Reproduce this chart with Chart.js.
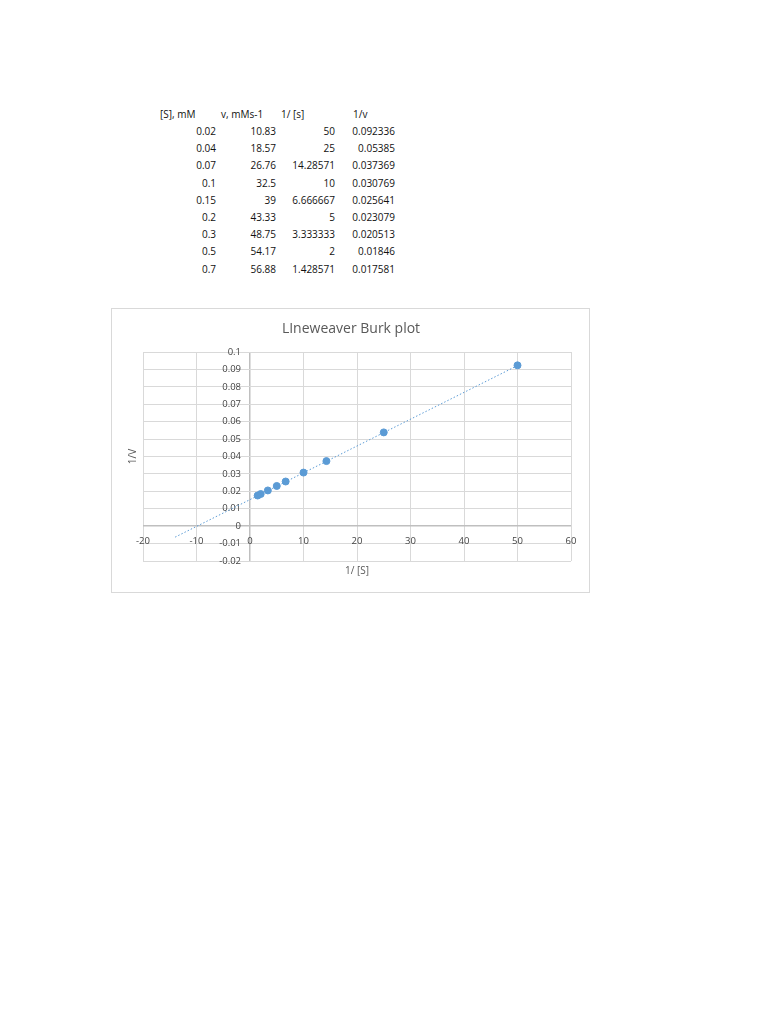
<!DOCTYPE html>
<html>
<head>
<meta charset="utf-8">
<script src="https://cdn.jsdelivr.net/npm/chart.js@4"></script>
<style>
  body { margin: 0; background: #fff; width: 768px; height: 1024px; position: relative; font-family: "Open Sans", sans-serif; }
  .cell { position: absolute; font-size: 10px; color: #111; white-space: nowrap; line-height: 12px; }
  .num { text-align: right; }
  #chartBox { position: absolute; left: 111px; top: 308px; width: 477px; height: 283px; border: 1px solid #d9d9d9; }
</style>
</head>
<body>
<div id="table"></div>
<div id="chartBox"><canvas id="lbChart"></canvas></div>
<script>
// valores da planilha
const sConc = ['0.02', '0.04', '0.07', '0.1', '0.15', '0.2', '0.3', '0.5', '0.7'];
const velocity = ['10.83', '18.57', '26.76', '32.5', '39', '43.33', '48.75', '54.17', '56.88'];
const invS = [50, 25, 14.28571, 10, 6.666667, 5, 3.333333, 2, 1.428571];
const invV = [0.092336, 0.05385, 0.037369, 0.030769, 0.025641, 0.023079, 0.020513, 0.01846, 0.017581];
const headers = ['[S], mM', 'v, mMs-1', '1/ [s]', '1/v'];

// linha de tendência (pontas)
const trendX = [-14, 50];
const trendY = [-0.0063, 0.0922];

// marcas dos eixos
const xTicks = [-20, -10, 0, 10, 20, 30, 40, 50, 60];
const xTickLabels = ['-20', '-10', '0', '10', '20', '30', '40', '50', '60'];
const yTicks = [0.1, 0.09, 0.08, 0.07, 0.06, 0.05, 0.04, 0.03, 0.02, 0.01, 0, -0.01, -0.02];
const yTickLabels = ['0.1', '0.09', '0.08', '0.07', '0.06', '0.05', '0.04', '0.03', '0.02', '0.01', '0', '-0.01', '-0.02'];

// monta a tabela de cima
const tableDiv = document.getElementById('table');
const headerLeft = [160, 221, 281, 353];
headers.forEach((h, i) => {
  const d = document.createElement('div');
  d.className = 'cell';
  d.style.left = headerLeft[i] + 'px';
  d.style.top = '108px';
  d.textContent = h;
  tableDiv.appendChild(d);
});
const colRight = [216, 276, 335, 395];
sConc.forEach((s, r) => {
  const row = [s, velocity[r], String(invS[r]), String(invV[r])];
  row.forEach((txt, c) => {
    const d = document.createElement('div');
    d.className = 'cell num';
    d.style.left = (colRight[c] - 60) + 'px';
    d.style.width = '60px';
    d.style.top = (125 + r * 17.2) + 'px';
    d.textContent = txt;
    tableDiv.appendChild(d);
  });
});

// rótulos dos eixos desenhados sobre o cruzamento em zero, como no Excel
const excelAxes = {
  id: 'excelAxes',
  beforeDatasetsDraw(chart) {
    const { ctx, chartArea, scales: { x, y } } = chart;
    const x0 = x.getPixelForValue(0);
    const y0 = y.getPixelForValue(0);
    ctx.save();
    ctx.fillStyle = '#444';
    ctx.font = '9.5px "Open Sans"';
    ctx.textAlign = 'right';
    ctx.textBaseline = 'middle';
    yTicks.forEach((v, i) => ctx.fillText(yTickLabels[i], x0 - 9, y.getPixelForValue(v)));
    ctx.textAlign = 'center';
    ctx.textBaseline = 'top';
    xTicks.forEach((v, i) => ctx.fillText(xTickLabels[i], x.getPixelForValue(v), y0 + 10));

    ctx.fillStyle = '#595959';
    ctx.font = '10px "Open Sans"';
    ctx.fillText('1/ [S]', (chartArea.left + chartArea.right) / 2, chartArea.bottom + 5);
    ctx.translate(chartArea.left - 10, (chartArea.top + chartArea.bottom) / 2);
    ctx.rotate(-Math.PI / 2);
    ctx.textBaseline = 'middle';
    ctx.fillText('1/V', 0, 0);
    ctx.restore();

    ctx.save();
    ctx.fillStyle = '#595959';
    ctx.font = '14px "Open Sans"';
    ctx.textAlign = 'center';
    ctx.textBaseline = 'middle';
    ctx.fillText('LIneweaver Burk plot', 239, 20);
    ctx.restore();
  }
};

const ctx = document.getElementById('lbChart').getContext('2d');
const lbChart = new Chart(ctx, {
  type: 'scatter',
  data: {
    datasets: [{
      label: 'Linear (1/v)',
      data: trendX.map((v, i) => ({ x: v, y: trendY[i] })),
      showLine: true,
      borderColor: '#5b9bd5',
      borderWidth: 1,
      borderDash: [1.5, 2],
      pointRadius: 0,
      fill: false
    }, {
      label: '1/v',
      data: invS.map((v, i) => ({ x: v, y: invV[i] })),
      backgroundColor: '#5b9bd5',
      borderColor: '#5b9bd5',
      pointRadius: 3.5,
      pointHoverRadius: 4
    }]
  },
  options: {
    responsive: true,
    maintainAspectRatio: false,
    animation: false,
    layout: { padding: { left: 31, top: 43, right: 18, bottom: 31 } },
    plugins: { legend: { display: false }, title: { display: false }, tooltip: { enabled: false } },
    scales: {
      x: {
        type: 'linear',
        min: -20, max: 60,
        ticks: { display: false, stepSize: 10 },
        border: { display: false },
        grid: {
          drawTicks: false,
          color: c => c.tick && c.tick.value === 0 ? '#bfbfbf' : '#d9d9d9',
          lineWidth: c => c.tick && c.tick.value === 0 ? 1.5 : 1
        }
      },
      y: {
        type: 'linear',
        min: -0.02, max: 0.1,
        ticks: { display: false, stepSize: 0.01 },
        border: { display: false },
        grid: {
          drawTicks: false,
          color: c => c.tick && Math.abs(c.tick.value) < 1e-9 ? '#bfbfbf' : '#d9d9d9',
          lineWidth: c => c.tick && Math.abs(c.tick.value) < 1e-9 ? 1.5 : 1
        }
      }
    }
  },
  plugins: [excelAxes]
});
</script>
</body>
</html>
